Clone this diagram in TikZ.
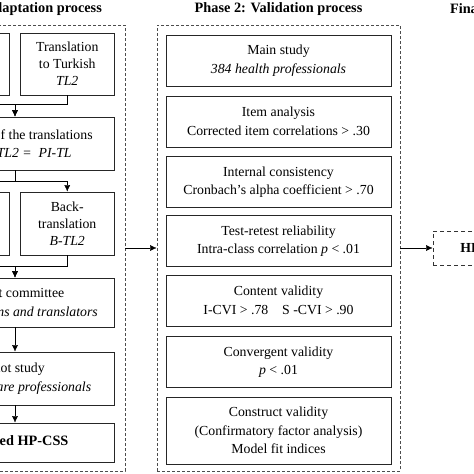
\documentclass[tikz,border=0pt]{standalone}
\usepackage{fontspec}
\setmainfont{Liberation Serif}
\usetikzlibrary{arrows,arrows.meta}

\tikzset{
  stagebox/.style={draw=black!85, line width=0.9pt, align=center, inner sep=1pt,
    minimum width=225pt, minimum height=51pt, font=\fontsize{13.8}{18.5}\selectfont},
  phasebox/.style={draw=black!70, dash pattern=on 3pt off 2pt, line width=0.9pt,
    minimum height=446pt},
  phasetitle/.style={font=\fontsize{14.3}{16}\selectfont\bfseries},
}

\begin{document}
\begin{tikzpicture}[x=1pt, y=-1pt, >={Latex[length=6.5pt,width=6pt]}]
    \useasboundingbox (0,0) rectangle (474,474);
    \clip (0,0) rectangle (474,474);

    % Titles
    \node[phasetitle] (titleA) at (15,9) {Phase 1: Adaptation process};
    \node[phasetitle] (titleB) at (278.5,9) {Phase 2: Validation process};
    \node[phasetitle] (titleC) at (490,9) {Final version};

    % Phase frames
    \node[phasebox, minimum width=220pt] (phaseA) at (15,248) {};
    \node[phasebox, minimum width=243pt] (phaseB) at (278.5,248) {};
    \node[draw=black!80, dash pattern=on 4pt off 3pt, line width=0.9pt,
          minimum width=104pt, minimum height=34pt,
          font=\fontsize{13.8}{15}\selectfont\bfseries] (final) at (485,248) {HP-CSS};

    % Phase 1
    \node[stagebox, minimum width=93.5pt, minimum height=62pt, font=\fontsize{13.8}{17}\selectfont] (tl1) at (-37.25,64) {Translation\\to Turkish\\\textit{TL1}};
    \node[stagebox, minimum width=93.5pt, minimum height=62pt, font=\fontsize{13.8}{17}\selectfont] (tl2) at (67.25,64) {Translation\\to Turkish\\\textit{TL2}};
    \node[stagebox, minimum width=198pt, minimum height=53pt] (synth) at (15,143.5) {Synthesis of the translations\\\textit{TL1 + TL2 =\ \ PI-TL}};
    \node[stagebox, minimum width=93.5pt, minimum height=63pt, font=\fontsize{13.8}{17}\selectfont] (btl1) at (-37.25,223.5) {Back-\\translation\\\textit{B-TL1}};
    \node[stagebox, minimum width=93.5pt, minimum height=63pt, font=\fontsize{13.8}{17}\selectfont] (btl2) at (67.25,223.5) {Back-\\translation\\\textit{B-TL2}};
    \node[stagebox, minimum width=198pt, minimum height=49pt] (expert) at (15,302.5) {Expert committee\\\textit{Academicians and translators}};
    \node[stagebox, minimum width=198pt, minimum height=53pt] (pilot) at (15,378.5) {Pilot study\\\textit{30 healthcare professionals}};
    \node[stagebox, minimum width=198pt, minimum height=39pt, font=\fontsize{14.3}{15}\selectfont\bfseries] (adapted) at (15,442.5) {Adapted HP-CSS};

    \draw[->] (tl1.south) -- ++(0,9) -| (synth.north);
    \draw[->] (tl2.south) -- ++(0,9) -| (synth.north);
    \draw[->] (synth.south) -- ++(0,10.5) -| (btl1.north);
    \draw[->] (synth.south) -- ++(0,10.5) -| (btl2.north);
    \draw[->] (btl1.south) -- ++(0,11) -| (expert.north);
    \draw[->] (btl2.south) -- ++(0,11) -| (expert.north);
    \draw[->] (expert) -- (pilot);
    \draw[->] (pilot) -- (adapted);

    % Phase 2
    \node[stagebox] (main) at (278.5,60.5) {Main study\\\textit{384 health professionals}};
    \node[stagebox] (item) at (278.5,121.5) {Item analysis\\Corrected item correlations > .30};
    \node[stagebox] (internal) at (278.5,182) {Internal consistency\\Cronbach’s alpha coefficient > .70};
    \node[stagebox] (retest) at (278.5,241) {Test-retest reliability\\Intra-class correlation \textit{p} < .01};
    \node[stagebox] (content) at (278.5,300.5) {Content validity\\I-CVI > .78\quad S\ -CVI > .90};
    \node[stagebox] (convergent) at (278.5,362) {Convergent validity\\\textit{p} < .01};
    \node[stagebox, minimum height=67pt] (construct) at (278.5,430.5) {Construct validity\\(Confirmatory factor analysis)\\Model fit indices};

    % Between phases
    \draw[->] (phaseA) -- (phaseB);
    \draw[->] (phaseB) -- (final);
\end{tikzpicture}
\end{document}
